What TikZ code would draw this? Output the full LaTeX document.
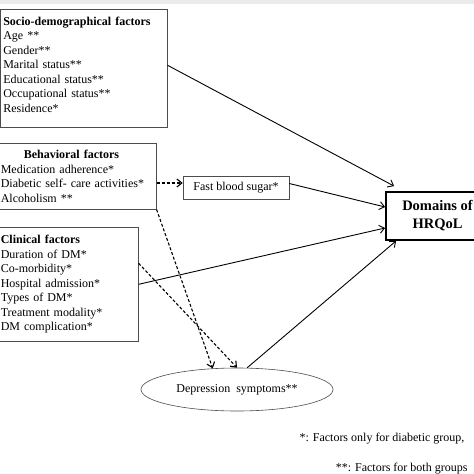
\documentclass[tikz,border=0pt]{standalone}
\usepackage{fontspec}
\setmainfont{Liberation Serif}
\usetikzlibrary{shapes.geometric,arrows.meta}
\tikzset{
  factor/.style={draw=black!70, line width=0.6pt, rectangle, anchor=north west, align=left,
    inner xsep=2.5pt, inner ysep=0pt, font=\fontsize{12}{14.5}\selectfont},
  plain/.style={draw=black!70, line width=0.6pt, font=\fontsize{12}{14.5}\selectfont},
  link/.style={->, line width=0.9pt},
  dlink/.style={->, dash pattern=on 3pt off 2pt, line width=1.1pt},
}
\begin{document}
\begin{tikzpicture}[x=1pt,y=-1pt,>={Straight Barb[length=5pt,width=8pt]}]
\useasboundingbox (0,0) rectangle (474,474);
\fill[black!8] (0,0) rectangle (474,3.5);
\node[factor, text width=161.5pt, minimum height=118pt] (socio) at (0.5,9)
  {\textbf{Socio-demographical factors}\\ Age **\\ Gender**\\ Marital status**\\
   Educational status**\\ Occupational status**\\ Residence*\rule[-8pt]{0pt}{8pt}};
\node[factor, text width=153pt, minimum height=66pt] (beh) at (-2,143)
  {\hspace*{23pt}\textbf{Behavioral factors}\\ Medication adherence*\\
   Diabetic self- care activities*\\ Alcoholism **};
\node[factor, text width=135pt, minimum height=114pt] (clin) at (-2,227)
  {\textbf{Clinical factors}\\ Duration of DM*\\ Co-morbidity*\\ Hospital admission*\\
   Types of DM*\\ Treatment modality*\\ DM complication*};
\node[plain, minimum width=106pt, minimum height=23pt] (fbs) at (236,187.5) {Fast blood sugar*};
\node[draw, line width=1.8pt, minimum width=103pt, minimum height=48pt, align=center,
  font=\bfseries\fontsize{14.5}{18}\selectfont] (hrqol) at (437.5,216) {Domains of\\HRQoL};
\node[plain, ellipse, inner sep=0pt, minimum width=192pt, minimum height=43pt] (dep) at (237,389.5)
  {Depression\hspace{6pt}symptoms**};
\node[anchor=base east, font=\fontsize{12}{14.5}\selectfont] (key1) at (468,441) {*: Factors only for diabetic group,};
\node[anchor=base east, font=\fontsize{12}{14.5}\selectfont] (key2) at (471,471) {**: Factors for both groups};

\draw[link] ([yshift=3pt]socio.east) -- ([xshift=9pt,yshift=5pt]hrqol.north west);
\draw[link] ([yshift=4pt]fbs.east) -- ([yshift=9pt]hrqol.west);
\draw[link] (clin.east) -- ([yshift=-12pt]hrqol.west);
\draw[link] (dep.65) -- ([xshift=11pt]hrqol.south west);
\coordinate (fbsin) at ([yshift=4.5pt]fbs.west);
\draw[dlink] (beh.east |- fbsin) -- (fbsin);
\draw[dlink] (beh.south east) -- (dep.139);
\draw[dlink] ([yshift=21pt]clin.east) -- (dep.north);
\end{tikzpicture}
\end{document}
